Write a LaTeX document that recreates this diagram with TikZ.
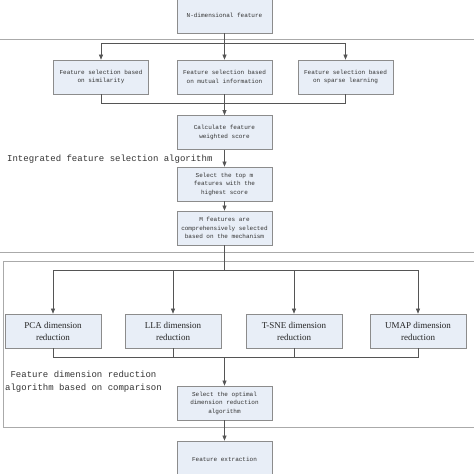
\documentclass[tikz,border=0pt]{standalone}
\usepackage{fontspec}
\setmainfont{Liberation Serif}
\newfontfamily\monof{Liberation Mono}
\usetikzlibrary{arrows.meta}
\definecolor{boxfill}{HTML}{E8EEF7}
\definecolor{boxline}{HTML}{8C8C8C}
\definecolor{grpline}{HTML}{AAAAAA}
\definecolor{conline}{HTML}{555555}
\tikzset{
  mbox/.style={draw=boxline, fill=boxfill, line width=0.7pt, minimum width=95pt, minimum height=34pt,
    inner sep=1pt, align=center, font=\monof\fontsize{6}{8.5}\selectfont, text=black!80},
  rbox/.style={draw=boxline, fill=boxfill, line width=0.7pt, minimum width=96pt, minimum height=34pt,
    inner sep=1pt, align=center, font=\fontsize{9}{12}\selectfont, text=black!85},
  grp/.style={draw=grpline, line width=0.7pt},
  con/.style={draw=conline, line width=0.6pt},
  arr/.style={con, -{Triangle[length=5pt,width=4pt]}},
  lab/.style={font=\monof\fontsize{9}{13}\selectfont, text=black!80, align=center, inner sep=0pt}
}
\begin{document}
\begin{tikzpicture}[x=1pt,y=-1pt]
\useasboundingbox (0,0) rectangle (474,474);
\clip (0,0) rectangle (474,474);
% groups
\draw[grp] (-5,39) rectangle (480,252);
\draw[grp] (3,261) rectangle (480,427);
% nodes
\node[mbox, minimum height=36pt] (nd) at (224.5,15) {N-dimensional feature};
\node[mbox] (s1) at (101,77) {Feature selection based\\on similarity};
\node[mbox] (s2) at (224.5,77) {Feature selection based\\on mutual information};
\node[mbox] (s3) at (345.5,77) {Feature selection based\\on sparse learning};
\node[mbox] (calc) at (224.5,132.5) {Calculate feature\\weighted score};
\node[mbox] (topm) at (224.5,184) {Select the top m\\features with the\\highest score};
\node[mbox] (mf) at (224.5,228) {M features are\\comprehensively selected\\based on the mechanism};
\node[rbox] (pca) at (53,331) {PCA dimension\\reduction};
\node[rbox] (lle) at (173,331) {LLE dimension\\reduction};
\node[rbox] (tsne) at (294,331) {T-SNE dimension\\reduction};
\node[rbox] (umap) at (418,331) {UMAP dimension\\reduction};
\node[mbox] (opt) at (224.5,403) {Select the optimal\\dimension  reduction\\algorithm};
\node[mbox, minimum height=36pt] (fe) at (224.5,459) {Feature extraction};
% labels
\node[lab, anchor=west] (l1) at (7,159) {Integrated feature selection algorithm};
\node[lab] (l2) at (83.5,381.5) {Feature dimension reduction\\algorithm based on comparison};
% connectors top
\coordinate (b1) at (224.5,43);
\coordinate (m1) at (224.5,103);
\draw[arr] (b1) -| (s1.north);
\draw[arr] (b1) -| (s3.north);
\draw[arr] (nd.south) -- (s2.north);
\draw[con] (s1.south) |- (m1);
\draw[con] (s3.south) |- (m1);
\draw[arr] (s2.south) -- (calc.north);
\draw[arr] (calc.south) -- (topm.north);
\draw[arr] (topm.south) -- (mf.north);
% connectors bottom
\coordinate (b2) at (224.5,270);
\coordinate (m2) at (224.5,357);
\draw[con] (mf.south) -- (b2);
\draw[arr] (b2) -| (pca.north);
\draw[arr] (b2) -| (lle.north);
\draw[arr] (b2) -| (tsne.north);
\draw[arr] (b2) -| (umap.north);
\draw[con] (pca.south) |- (m2);
\draw[con] (lle.south) |- (m2);
\draw[con] (tsne.south) |- (m2);
\draw[con] (umap.south) |- (m2);
\draw[arr] (m2) -- (opt.north);
\draw[arr] (opt.south) -- (fe.north);
\end{tikzpicture}
\end{document}
